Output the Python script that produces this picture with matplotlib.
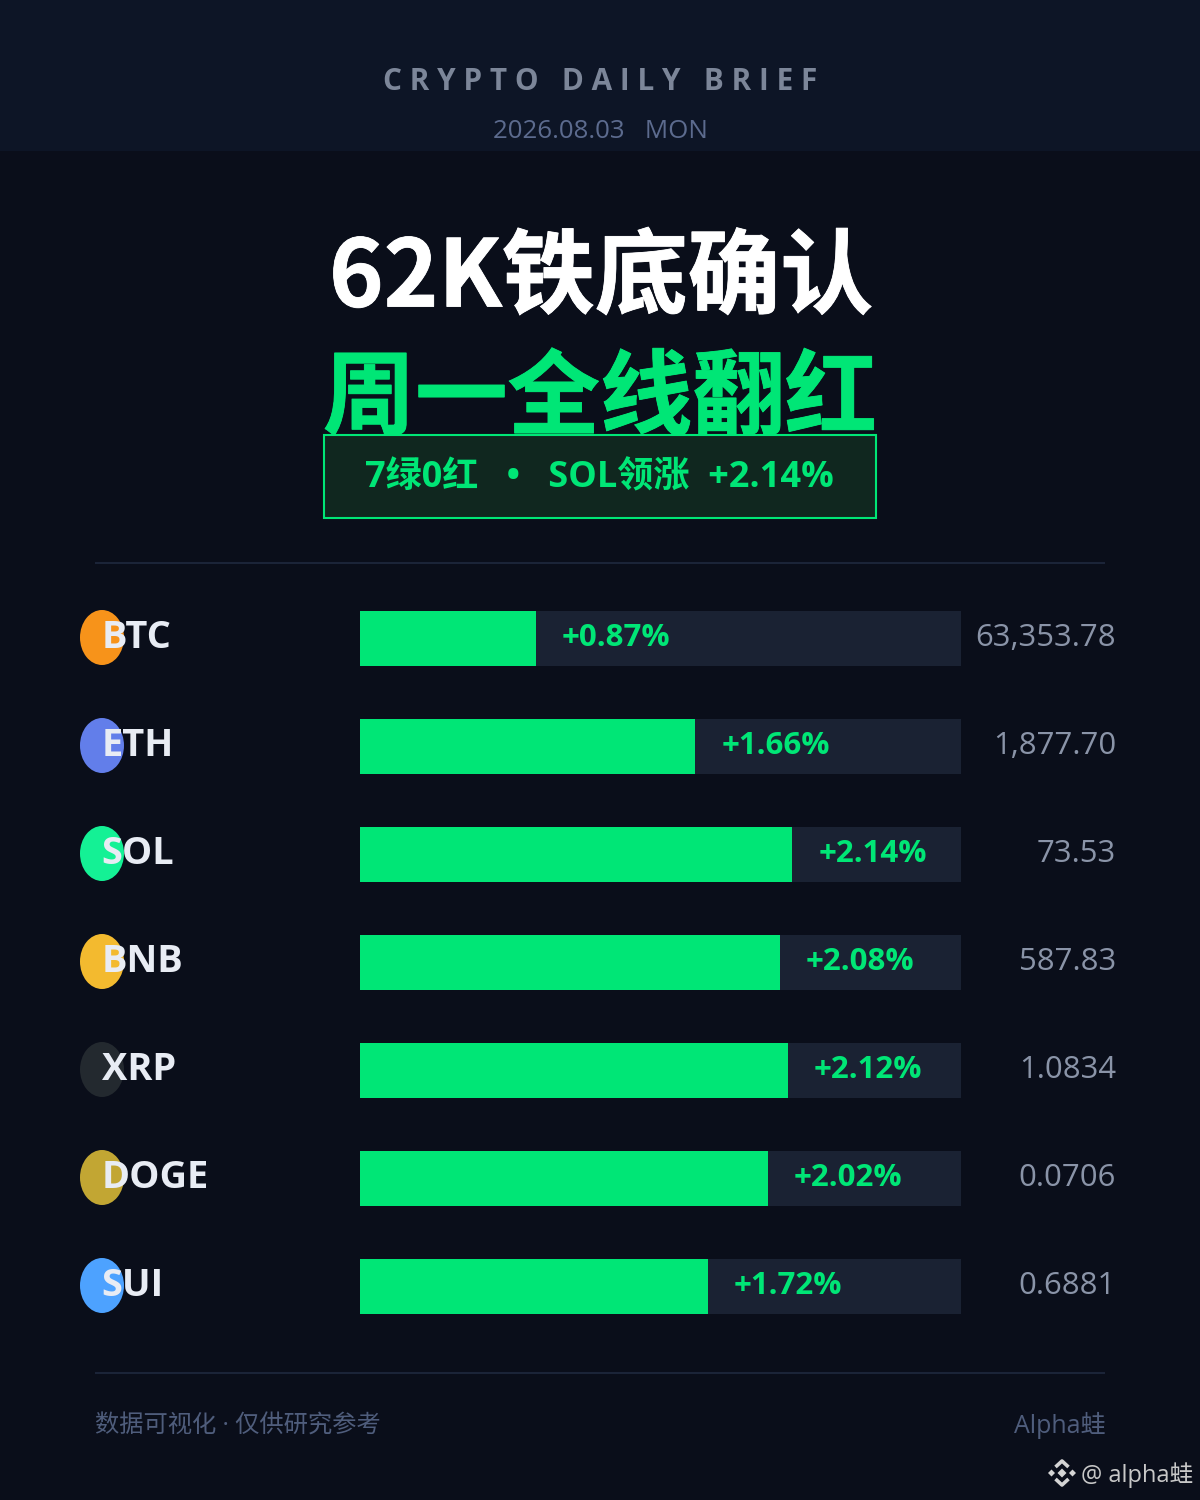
import matplotlib
matplotlib.use("Agg")
import matplotlib.pyplot as plt
import matplotlib.patheffects as pe
from matplotlib.patches import Ellipse, Rectangle, Polygon

symbols = ["BTC", "ETH", "SOL", "BNB", "XRP", "DOGE", "SUI"]
changes = [0.87, 1.66, 2.14, 2.08, 2.12, 2.02, 1.72]
prices = ["63,353.78", "1,877.70", "73.53", "587.83", "1.0834", "0.0706", "0.6881"]
icon_colors = ["#f7931a", "#627eea", "#14f195", "#f3ba2f", "#23292f", "#c2a633", "#4da2ff"]
track_max = 2.974

BG = "#0a0e1a"
HEADER = "#0d1526"
TRACK = "#1a2233"
GREEN = "#00e676"
FOOT = "#4f5d7c"
LATIN = ["Open Sans", "Noto Sans CJK SC", "DejaVu Sans"]
CJK = ["Noto Sans CJK SC", "DejaVu Sans"]

fig = plt.figure(figsize=(12, 15), dpi=100, facecolor=BG)

# whole figure in pixel coordinates, y going down
ax = fig.add_axes([0, 0, 1, 1])
ax.set_xlim(0, 1200)
ax.set_ylim(1500, 0)
ax.axis("off")

ax.add_patch(Rectangle((0, 0), 1200, 151, color=HEADER, lw=0))
ax.text(600.5, 90, "C R Y P T O   D A I L Y   B R I E F", color="#7c8699", fontsize=21.4,
        fontweight="bold", family=LATIN, ha="center", va="baseline")
ax.text(600, 137.5, "2026.08.03   MON", color="#5c6b8e", fontsize=18.6, family=LATIN,
        ha="center", va="baseline")

title_fx = [pe.withStroke(linewidth=0.6, foreground="white")]
ax.text(601, 306.5, "62K铁底确认", color="white", fontsize=66.8, fontweight="bold", family=CJK,
        ha="center", va="baseline", zorder=2, path_effects=title_fx)
green_fx = [pe.withStroke(linewidth=0.6, foreground=GREEN)]
ax.text(600, 427, "周一全线翻红", color=GREEN, fontsize=66.5, fontweight="bold", family=CJK,
        ha="center", va="baseline", zorder=2, path_effects=green_fx)

ax.add_patch(Rectangle((324, 435), 552, 83, facecolor="#10271f", edgecolor=GREEN, lw=1.5, zorder=3))
ax.text(599, 487, "7绿0红   •   SOL领涨  +2.14%", color=GREEN, fontsize=26, fontweight="bold",
        family=LATIN, ha="center", va="baseline", zorder=4)

ax.plot([95, 1105], [563, 563], color="#1b2438", lw=1.5, solid_capstyle="butt")
ax.plot([95, 1105], [1373, 1373], color="#1b2438", lw=1.5, solid_capstyle="butt")

# bars get their own axes so the widths come from the values
bars = fig.add_axes([360 / 1200, 1 - 1340.5 / 1500, 601 / 1200, 756 / 1500])
bars.set_xlim(0, track_max)
bars.set_ylim(len(symbols) - 0.5, -0.5)
bars.axis("off")
rows = list(range(len(symbols)))
bars.barh(rows, [track_max] * len(rows), height=55 / 108, color=TRACK, lw=0)
bars.barh(rows, changes, height=55 / 108, color=GREEN, lw=0)

for i, (sym, chg, price, col) in enumerate(zip(symbols, changes, prices, icon_colors)):
    cy = 638.5 + i * 108
    ax.add_patch(Ellipse((102, cy - 1), 44, 55, color=col, lw=0, zorder=2))
    ax.text(101.5, cy + 9, sym, color="#e8ecf4", fontsize=27.4, fontweight="bold", family=LATIN,
            ha="left", va="baseline", zorder=3)
    ax.text(1116, cy + 7.5, price, color="#8a94a8", fontsize=22.4, family=LATIN,
            ha="right", va="baseline")
    bars.annotate(f"+{chg:.2f}%", (chg, i), xytext=(18.5, -5.5), textcoords="offset points",
                  color=GREEN, fontsize=22.5, fontweight="bold", family=LATIN,
                  ha="left", va="baseline")

ax.text(95, 1433, "数据可视化 · 仅供研究参考", color=FOOT, fontsize=17.5, family=LATIN,
        ha="left", va="baseline")
ax.text(1105, 1433, "Alpha蛙", color=FOOT, fontsize=18, family=LATIN, ha="right", va="baseline")

# watermark logo
logo = "#d4d4d4"
lx, ly = 1062, 1473
ax.add_patch(Polygon([(lx - 4.5, ly), (lx, ly - 4.5), (lx + 4.5, ly), (lx, ly + 4.5)], color=logo, lw=0))
ax.add_patch(Polygon([(lx - 14, ly), (lx - 10.5, ly - 3.5), (lx - 7, ly), (lx - 10.5, ly + 3.5)], color=logo, lw=0))
ax.add_patch(Polygon([(lx + 14, ly), (lx + 10.5, ly - 3.5), (lx + 7, ly), (lx + 10.5, ly + 3.5)], color=logo, lw=0))
ax.plot([lx - 6.5, lx, lx + 6.5], [ly - 6, ly - 12, ly - 6], color=logo, lw=2.6, solid_capstyle="butt")
ax.plot([lx - 6.5, lx, lx + 6.5], [ly + 6, ly + 12, ly + 6], color=logo, lw=2.6, solid_capstyle="butt")
ax.text(1081, 1482, "@ alpha蛙", color="#c8c8c8", fontsize=17, family=LATIN, ha="left", va="baseline")

fig.savefig("out.png", dpi=100, facecolor=BG)
